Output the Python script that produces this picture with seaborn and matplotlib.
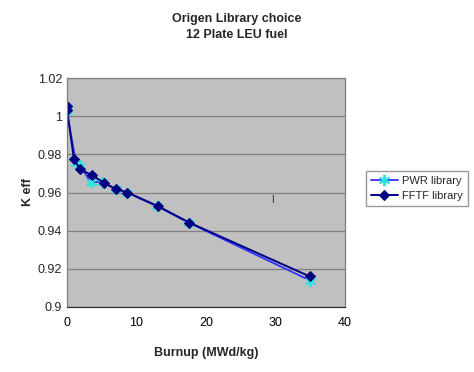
import pandas as pd
import numpy as np
import matplotlib.pyplot as plt
import seaborn as sns

# values
burnup_pwr = [0.0, 0.0, 1.3, 1.9, 3.4, 5.1, 7.0, 8.6, 13.0, 17.6, 35.0]
keff_pwr = [1.004, 1.002, 0.9756, 0.974, 0.9655, 0.9655, 0.9617, 0.9600, 0.9527, 0.9440, 0.9138]

burnup_fftf = [0.0, 0.0, 1.0, 1.9, 3.6, 5.3, 7.0, 8.7, 13.1, 17.6, 34.9]
keff_fftf = [1.0052, 1.0035, 0.9774, 0.9721, 0.9691, 0.9651, 0.9619, 0.9600, 0.9528, 0.9442, 0.9160]

pwr = pd.DataFrame({"burnup": burnup_pwr, "keff": keff_pwr})
fftf = pd.DataFrame({"burnup": burnup_fftf, "keff": keff_fftf})

sns.set_style("white")
plt.rcParams["font.family"] = ["Liberation Sans", "DejaVu Sans"]

fig = plt.figure(figsize=(4.74, 3.72), dpi=100)
ax = fig.add_axes([0.1414, 0.175, 0.5866, 0.615])
ax.set_facecolor("#c0c0c0")

sns.lineplot(data=pwr, x="burnup", y="keff", ax=ax, sort=False, estimator=None,
             color="#3030ff", lw=1.3, marker=(6, 2, 0), markersize=8,
             markeredgecolor="#33e0e0", markeredgewidth=1.4, label="PWR library")
sns.lineplot(data=fftf, x="burnup", y="keff", ax=ax, sort=False, estimator=None,
             color="#000080", lw=1.4, marker="D", markersize=5.5,
             markeredgecolor="#000080", markerfacecolor="#000080", label="FFTF library")

ax.set_xlim(0, 40)
ax.set_ylim(0.9, 1.02)
ax.set_xticks([0, 10, 20, 30, 40])
ax.set_yticks([0.9, 0.92, 0.94, 0.96, 0.98, 1.0, 1.02])
ax.set_yticklabels(["0.9", "0.92", "0.94", "0.96", "0.98", "1", "1.02"])
ax.yaxis.grid(True, color="#808080", lw=0.9)
ax.set_axisbelow(True)
for s in ax.spines.values():
    s.set_color("#808080")
    s.set_linewidth(0.9)
ax.spines["bottom"].set_color("#303030")
ax.tick_params(axis="x", direction="out", length=4, width=0.8, colors="black", labelsize=9)
ax.tick_params(axis="y", length=0, labelsize=9, pad=3.5)

ax.set_xlabel("Burnup (MWd/kg)", fontsize=9, fontweight="bold", labelpad=13)
ax.set_ylabel("K eff", fontsize=9, fontweight="bold", labelpad=3)

ax.text(29.5, 0.956, "I", fontsize=7, ha="center", va="center")

fig.suptitle("Origen Library choice\n12 Plate LEU fuel", x=0.5, y=0.965,
             fontsize=9, fontweight="bold", linespacing=1.4)

ax.legend_.remove()
handles, labels = ax.get_legend_handles_labels()
fig.legend(handles, labels, loc="upper left", bbox_to_anchor=(0.772, 0.540),
           fontsize=8, frameon=True, fancybox=False, edgecolor="#808080",
           handlelength=2.4, borderpad=0.45, labelspacing=0.45, handletextpad=0.4,
           borderaxespad=0)

fig.savefig("out.png", dpi=100)
